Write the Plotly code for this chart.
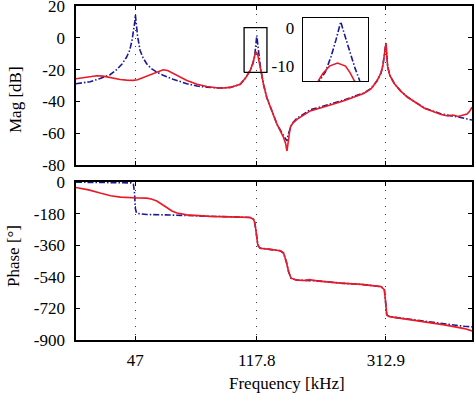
import plotly.graph_objects as go
import math

# ---------------- data ----------------
# Magnitude, model (blue dash-dot)
f_mag_blue = [30, 33.4, 36.0, 38.8, 40.8, 42.5, 44.0, 45.0, 45.8, 46.4, 46.8, 47.0, 47.3, 47.8,
              48.7, 49.8, 51.2, 53.0, 55.3, 58.0, 62.5, 69.4, 75, 80.7, 89.3, 96.4, 103.9, 108,
              112.1, 113.2, 114.5, 115.9, 116.6, 117.2, 117.8, 118.4, 119.0, 119.6, 120.2, 120.9,
              122.0, 124.0, 127, 130.4, 137.2, 144.2, 146.5, 148.0, 149.5, 151.7, 153.7, 159.6,
              176.5, 205.4, 226.6, 264.4, 280, 292.6, 301.6, 306, 309.2, 311.5, 312.9, 314.5,
              317, 322, 333.6, 350, 368.9, 418.5, 475.2, 538.8, 600]
mag_blue = [-28.9, -27.6, -25.6, -23.2, -20.0, -16.5, -12.1, -8.0, -2.0, 4.0, 10.0, 14.5, 9.0, 1.0,
            -7.8, -12.5, -16.3, -19.3, -21.6, -23.6, -26.0, -28.9, -30.3, -31.1, -31.6, -31.2, -29.3, -25.5,
            -20.5, -18.5, -15.8, -11.6, -7.5, -3.2, 1.6, -2.6, -6.8, -10.6, -13.9, -17.5,
            -22.0, -29.5, -37.5, -43.7, -54.3, -61.5, -64.0, -64.8, -60.5, -56.4, -54.0, -50.6,
            -45.3, -41.7, -39.3, -34.7, -31.8, -27.0, -22.0, -17.0, -10.5, -6.0, -3.0, -9.0,
            -18.0, -23.5, -28.9, -33.5, -37.4, -44.1, -47.9, -49.8, -51.7]

# Magnitude, measurement (red solid)
f_mag_red = [30, 33.4, 35.1, 36.8, 38.8, 41.9, 44.0, 46.2, 47.8, 49.8, 52.0, 55.3, 58.0, 60.0,
             62.5, 65.5, 69.4, 75, 80.7, 89.3, 96.4, 103.9, 108, 112.1, 113.2, 114.3, 115.04,
             115.6, 116.4, 117.4, 118.4, 118.96, 119.52, 120.2, 120.9, 122.0, 124.0, 127, 130.4,
             137.2, 144.2, 146.5, 148.0, 149.2, 150.5, 151.7, 153.7, 155, 159.6, 176.5, 205.4,
             226.6, 264.4, 280, 292.6, 301.6, 306, 309.2, 311.5, 312.9, 314.5, 317, 322, 333.6,
             350, 368.9, 418.5, 475.2, 500, 520, 540, 560, 578, 590, 600]
mag_red = [-25.8, -24.5, -23.9, -24.1, -25.1, -26.2, -26.6, -26.8, -26.4, -25.1, -23.5, -21.3, -20.1, -20.6,
           -22.2, -24.5, -26.8, -29.2, -30.6, -31.7, -31.2, -29.3, -25.5, -20.5, -18.5, -16.0, -13.9,
           -11.9, -10.0, -9.2, -10.0, -11.7, -13.9, -16.7, -19.0, -22.5, -29.5, -37.5, -43.7,
           -54.3, -62.7, -66.5, -71.2, -66.0, -59.0, -56.4, -54.5, -53.5, -51.3, -46.0, -42.2,
           -39.8, -35.0, -32.0, -27.0, -22.0, -17.0, -10.5, -6.0, -3.5, -9.0, -18.0, -23.5, -28.9,
           -33.5, -37.4, -44.3, -48.3, -49.2, -48.6, -49.5, -48.9, -47.9, -46.0, -43.7]

# Phase, model (blue)
f_ph_blue = [30, 40, 45.5, 46.3, 46.7, 47.0, 47.4, 48.5, 51.2, 61.1, 82.8, 103.9, 112.1, 114.9,
             116.0, 117.0, 117.8, 118.6, 119.4, 120.9, 130, 140.7, 144.2, 147.2, 149.8, 152.6,
             159.6, 185.8, 221.6, 260, 301.6, 309.2, 312.0, 314.8, 321.4, 398, 487, 566.7, 600]
ph_blue = [-1, -2, -5, -12, -60, -150, -175, -181, -185, -188, -195, -199, -202, -212,
           -232, -275, -320, -355, -367, -377, -384, -392, -405, -453, -510, -548,
           -559, -563, -576, -583, -596, -614, -681, -757, -767, -789, -810, -822, -825]

# Phase, measurement (red)
f_ph_red = [30, 33, 36, 39, 42, 45, 48, 51.2, 53, 55.3, 57.5, 59.6, 62, 64.4, 69.4, 76.7, 82.8,
            103.9, 112.1, 114.9, 116.0, 117.0, 117.8, 118.6, 119.4, 120.9, 130, 140.7, 144.2,
            147.2, 149.8, 152.6, 159.6, 170, 175, 185.8, 221.6, 260, 301.6, 309.2, 312.0, 314.8,
            321.4, 398, 487, 566.7, 600]
ph_red = [-31, -45, -63, -78, -86, -90, -91, -92, -97, -108, -125, -145, -165, -177, -187, -192, -196,
          -200, -202, -212, -232, -275, -320, -355, -367, -377, -384, -392, -405,
          -453, -510, -548, -559, -561, -556, -563, -576, -583, -596, -614, -681, -757,
          -767, -791, -814, -835, -848]

freq_ticks = [47, 117.8, 312.9]
freq_ticktext = ["47", "117.8", "312.9"]
mag_ticks = [20, 0, -20, -40, -60, -80]
mag_ticktext = ["20", "0", "-20", "-40", "-60", "-80"]
ph_ticks = [0, -180, -360, -540, -720, -900]
ph_ticktext = ["0", "-180", "-360", "-540", "-720", "-900"]
inset_ticks = [0, -10]
inset_ticktext = ["0", "-10"]

f_range = [30, 600]
mag_range = [-80, 20]
ph_range = [-900, 0]
inset_f_range = [113.2, 121.2]
inset_mag_range = [-13.9, 2.6]
zoom_box_f = [107, 127.2]
zoom_box_mag = [-21.8, 6.4]

# ---------------- styling ----------------
BLUE = "rgb(25,25,150)"
RED = "rgb(235,25,35)"
FONT = "Liberation Serif, Times New Roman, serif"
blue_line = dict(color=BLUE, width=1.6, dash="6px,2px,1.5px,2px")
red_line = dict(color=RED, width=1.6)

fig = go.Figure()
# top
fig.add_trace(go.Scatter(x=f_mag_blue, y=mag_blue, mode="lines", line=blue_line, xaxis="x", yaxis="y"))
fig.add_trace(go.Scatter(x=f_mag_red, y=mag_red, mode="lines", line=red_line, xaxis="x", yaxis="y"))
# zoom rectangle on main plot
bx = [zoom_box_f[0], zoom_box_f[1], zoom_box_f[1], zoom_box_f[0], zoom_box_f[0]]
by = [zoom_box_mag[0], zoom_box_mag[0], zoom_box_mag[1], zoom_box_mag[1], zoom_box_mag[0]]
fig.add_trace(go.Scatter(x=bx, y=by, mode="lines", line=dict(color="black", width=1.3),
                         xaxis="x", yaxis="y"))
# bottom
fig.add_trace(go.Scatter(x=f_ph_blue, y=ph_blue, mode="lines", line=blue_line, xaxis="x2", yaxis="y2"))
fig.add_trace(go.Scatter(x=f_ph_red, y=ph_red, mode="lines", line=red_line, xaxis="x2", yaxis="y2"))
# inset
fig.add_trace(go.Scatter(x=f_mag_blue, y=mag_blue, mode="lines", line=blue_line, xaxis="x3", yaxis="y3"))
fig.add_trace(go.Scatter(x=f_mag_red, y=mag_red, mode="lines", line=red_line, xaxis="x3", yaxis="y3"))

L, R, T, B = 76, 2, 6, 54
W, H = 474, 394
pw, ph = W - L - R, H - T - B


def px_x(p):
    return (p - L) / pw


def px_y(p):
    return (H - B - p) / ph


tickfont = dict(family=FONT, size=17, color="black")
common_x = dict(type="log", range=[math.log10(f_range[0]), math.log10(f_range[1])],
                tickvals=freq_ticks, ticktext=freq_ticktext, showgrid=True,
                gridcolor="rgb(60,60,60)", gridwidth=1, griddash="1px,7px",
                showline=True, linecolor="black", linewidth=1.6, mirror="ticks",
                ticks="inside", ticklen=4, tickcolor="black", zeroline=False, tickfont=tickfont,
                automargin=False, ticklabeloverflow="allow")
common_y = dict(showgrid=False, showline=True, linecolor="black", linewidth=1.6, mirror="ticks",
                ticks="inside", ticklen=4, tickcolor="black", zeroline=False, tickfont=tickfont,
                ticklabelstandoff=6, automargin=False, ticklabeloverflow="allow")

ann_font = dict(family=FONT, size=17, color="black")
fig.update_layout(
    template="none",
    width=W, height=H, margin=dict(l=L, r=R, t=T, b=B),
    paper_bgcolor="white", plot_bgcolor="white", showlegend=False,
    font=dict(family=FONT, size=17, color="black"),
    xaxis=dict(common_x, domain=[0, 1], anchor="y", showticklabels=False),
    yaxis=dict(common_y, domain=[px_y(165), 1], anchor="x", range=mag_range,
               tickvals=mag_ticks, ticktext=mag_ticktext),
    xaxis2=dict(common_x, domain=[0, 1], anchor="y2", ticklabelstandoff=4),
    yaxis2=dict(common_y, domain=[0, px_y(182)], anchor="x2", range=ph_range,
                tickvals=ph_ticks, ticktext=ph_ticktext),
    xaxis3=dict(type="log", range=[math.log10(inset_f_range[0]), math.log10(inset_f_range[1])],
                domain=[px_x(303), px_x(367.7)], anchor="y3", showgrid=False, zeroline=False,
                showline=True, linecolor="black", linewidth=1.4, mirror=True,
                showticklabels=False, ticks="", automargin=False),
    yaxis3=dict(range=inset_mag_range, domain=[px_y(81), px_y(18)], anchor="x3",
                showgrid=False, zeroline=False, showline=True, linecolor="black", linewidth=1.4,
                mirror=True, ticks="", tickvals=inset_ticks, ticktext=inset_ticktext,
                tickfont=tickfont, ticklabelstandoff=4, automargin=False,
                ticklabeloverflow="allow"),
    annotations=[
        dict(text="Mag [dB]", x=px_x(15), y=px_y(100), xref="paper", yref="paper",
             xanchor="center", yanchor="middle",
             textangle=-90, showarrow=False, font=ann_font),
        dict(text="Phase [°]", x=px_x(13), y=px_y(256), xref="paper", yref="paper",
             xanchor="center", yanchor="middle",
             textangle=-90, showarrow=False, font=ann_font),
        dict(text="Frequency [kHz]", x=px_x(287), y=px_y(383), xref="paper", yref="paper",
             xanchor="center", yanchor="middle", showarrow=False, font=ann_font),
    ],
)

fig.write_html("out.html", config={"displayModeBar": False, "staticPlot": True},
               post_script="document.body.style.margin='0';document.body.style.overflow='hidden';")
